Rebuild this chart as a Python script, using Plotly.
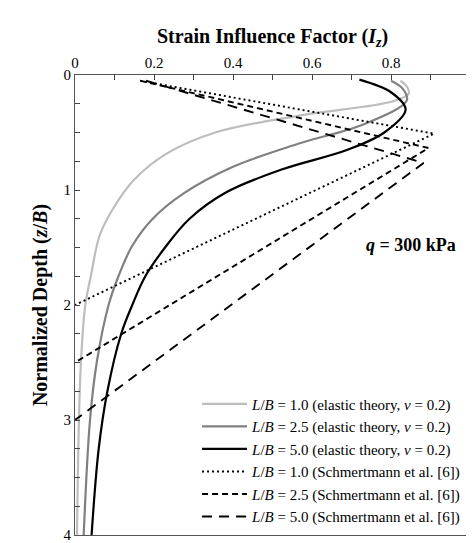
import plotly.graph_objects as go

# Elastic theory curves (Iz, z/B)
e1_x = [0.824, 0.84, 0.845, 0.8075, 0.565, 0.357, 0.232, 0.149, 0.095, 0.062, 0.04, 0.026, 0.015, 0.01, 0.005]
e1_z = [0.05, 0.1, 0.16, 0.226, 0.355, 0.498, 0.684, 0.913, 1.17, 1.4, 1.75, 2.0, 2.5, 3.0, 4.0]
e2_x = [0.80, 0.83, 0.84, 0.733, 0.565, 0.40, 0.275, 0.195, 0.145, 0.11, 0.085, 0.055, 0.038, 0.022]
e2_z = [0.05, 0.12, 0.22, 0.426, 0.598, 0.798, 1.03, 1.256, 1.485, 1.75, 2.0, 2.5, 3.0, 4.0]
e3_x = [0.72, 0.80, 0.837, 0.783, 0.69, 0.525, 0.383, 0.29, 0.228, 0.178, 0.145, 0.117, 0.082, 0.06, 0.042]
e3_z = [0.04, 0.15, 0.30, 0.5, 0.65, 0.82, 1.02, 1.25, 1.5, 1.75, 2.0, 2.25, 2.75, 3.25, 4.0]
# Schmertmann et al. [6]
s1_x = [0.165, 0.909, 0.0]
s1_z = [0.05, 0.51, 2.0]
s2_x = [0.165, 0.895, 0.0]
s2_z = [0.05, 0.635, 2.5]
s3_x = [0.18, 0.8825, 0.0]
s3_z = [0.05, 0.765, 3.0]

names = ["<i>L</i>/<i>B</i> = 1.0 (elastic theory, <i>v</i> = 0.2)",
         "<i>L</i>/<i>B</i> = 2.5 (elastic theory, <i>v</i> = 0.2)",
         "<i>L</i>/<i>B</i> = 5.0 (elastic theory, <i>v</i> = 0.2)",
         "<i>L</i>/<i>B</i> = 1.0 (Schmertmann et al. [6])",
         "<i>L</i>/<i>B</i> = 2.5 (Schmertmann et al. [6])",
         "<i>L</i>/<i>B</i> = 5.0 (Schmertmann et al. [6])"]

fig = go.Figure()
for x, z, n, c in [(e1_x, e1_z, names[0], "#bdbdbd"), (e2_x, e2_z, names[1], "#808080"), (e3_x, e3_z, names[2], "#000000")]:
    fig.add_trace(go.Scatter(x=x, y=z, name=n, mode="lines", line=dict(color=c, width=2.2, shape="spline", smoothing=1.0)))
for x, z, n, d in [(s1_x, s1_z, names[3], "2px,3px"), (s2_x, s2_z, names[4], "6px,4px"), (s3_x, s3_z, names[5], "10px,7px")]:
    fig.add_trace(go.Scatter(x=x, y=z, name=n, mode="lines", line=dict(color="black", width=1.9, dash=d)))

font = "Liberation Serif, DejaVu Serif, serif"
fig.update_layout(
    width=474, height=543, margin=dict(l=67, r=8, t=67, b=10),
    plot_bgcolor="white", paper_bgcolor="white",
    font=dict(family=font, size=15, color="black"),
    xaxis=dict(range=[0, 1], side="top", dtick=0.2, tickformat="~g", showgrid=False, zeroline=False,
               showline=True, linecolor="#555", mirror=True, ticks="inside", ticklen=5,
               minor=dict(dtick=0.1, ticks="inside", ticklen=5),
               title=dict(text="<b>Strain Influence Factor (<i>I<sub>z</sub></i>)</b>", font=dict(size=20), standoff=6)),
    yaxis=dict(range=[4, 0], dtick=1, showgrid=False, zeroline=False,
               showline=True, linecolor="#555", mirror=True, ticks="inside", ticklen=5,
               minor=dict(dtick=0.25, ticks="inside", ticklen=5),
               title=dict(text="<b>Normalized Depth (<i>z</i>/<i>B</i>)</b>", font=dict(size=20), standoff=10)),
    legend=dict(x=0.99, y=0.005, xanchor="right", yanchor="bottom", bgcolor="rgba(0,0,0,0)",
                font=dict(size=15), itemwidth=45, tracegroupgap=0),
    annotations=[dict(x=0.97, y=1.48, xref="x", yref="y", xanchor="right", showarrow=False,
                      text="<b><i>q</i> = 300 kPa</b>", font=dict(size=18))],
)
fig.write_html("out.html")
